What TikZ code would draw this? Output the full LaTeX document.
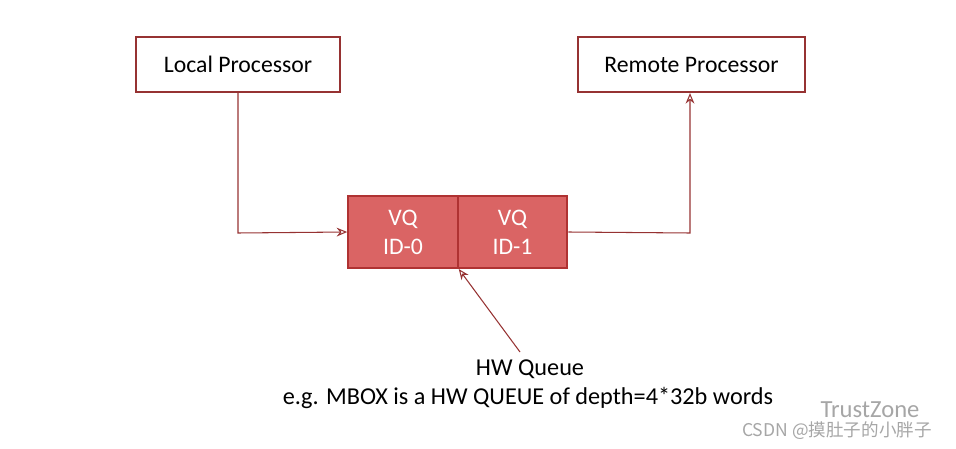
\documentclass[tikz,border=0pt]{standalone}
\usepackage{fontspec}
\setmainfont{Carlito}
\newfontfamily\cjk{Noto Sans CJK SC}
\usetikzlibrary{arrows.meta}
\definecolor{bord}{RGB}{150,50,50}
\definecolor{qfill}{RGB}{218,100,100}
\definecolor{qbord}{RGB}{175,50,50}
\begin{document}
\begin{tikzpicture}[x=0.02cm,y=-0.02cm,
  proc/.style={draw=bord,line width=1.2pt,minimum width=4.08cm,minimum height=1.1cm,font=\fontsize{13.5}{16}\selectfont},
  vq/.style={draw=qbord,fill=qfill,line width=1.2pt,minimum width=2.19cm,minimum height=1.44cm,text=white,align=center,font=\fontsize{13.5}{16.5}\selectfont},
  conn/.style={draw=bord,line width=0.6pt,-{Stealth[length=6pt,width=5pt,open]}}]
\useasboundingbox (0,0) rectangle (956,449);
\node[proc] (lp) at (238,64.5) {Local Processor};
\node[proc,minimum width=4.54cm] (rp) at (691.5,64.5) {Remote Processor};
\node[vq] (q0) at (403,232) {VQ\\ID-0};
\node[vq] (q1) at (512.5,232) {VQ\\ID-1};
\node[font=\fontsize{13.8}{16}\selectfont] (hw) at (530,369) {HW Queue};
\node[font=\fontsize{13.8}{16}\selectfont] (eg) at (528,398) {e.g. MBOX is a HW QUEUE of depth=4*32b words};
\coordinate (c1) at (238,233);
\coordinate (c2) at (690,233);
\draw[conn] (lp.south) -- (c1) -- (q0.west);
\draw[conn] (q1.east) -- (c2) -- (rp.south -| c2);
\draw[conn] (520,352) -- (q0.south east);
\node[text=gray!70,font=\fontsize{14}{16}\selectfont] (tz) at (870,410) {TrustZone};
\node[text=gray!70,font=\cjk\fontsize{10}{12}\selectfont] (cs) at (837,431) {CSDN @摸肚子的小胖子};
\end{tikzpicture}
\end{document}
